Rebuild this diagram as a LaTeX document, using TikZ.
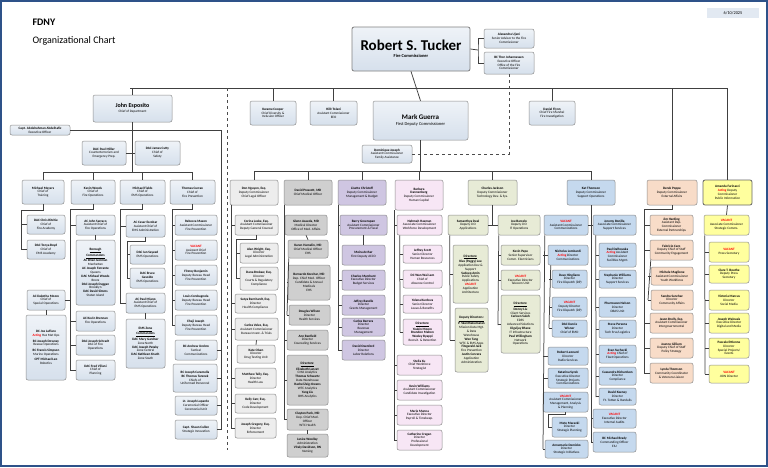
\documentclass[tikz,border=0pt]{standalone}
\usepackage{fontspec}
\setmainfont{Carlito}
\definecolor{espc}{HTML}{D6E0EC}
\definecolor{donc}{HTML}{EDEDED}
\definecolor{prec}{HTML}{CFCFCF}
\definecolor{lisc}{HTML}{CFC6E2}
\definecolor{barc}{HTML}{F7E6F5}
\definecolor{chac}{HTML}{E7EBD6}
\definecolor{katc}{HTML}{C5D9EE}
\definecolor{derc}{HTML}{F8DCC8}
\definecolor{amac}{HTML}{FFFF9E}
\definecolor{frame}{HTML}{2E5289}
\newcommand\bx[7]{\node[#6,minimum width={(#4-#2)*1pt},minimum height={(#5-#3)*1pt}] (#1) at ({(#2+#4)/2},{(#3+#5)/2}) {#7};}
\newcommand\nm[1]{\textbf{#1}}
\newcommand\rd[1]{\textcolor{red}{\textbf{#1}}}
\newcommand\ul[1]{\underline{\textbf{#1}}}
\tikzset{
 bxs/.style={draw=black!45, rounded corners=2pt, align=center, inner sep=0.2pt, line width=0.5pt, font=\fontsize{3.35}{3.85}\selectfont},
 esp/.style={bxs, top color=espc!40, bottom color=espc},
 don/.style={bxs, fill=donc},
 pre/.style={bxs, fill=prec},
 lis/.style={bxs, fill=lisc},
 bar/.style={bxs, fill=barc},
 cha/.style={bxs, fill=chac},
 kat/.style={bxs, fill=katc},
 der/.style={bxs, fill=derc},
 ama/.style={bxs, fill=amac},
 ln/.style={draw=black!75, line width=0.75pt},
 dsh/.style={draw=black!70, line width=0.5pt, dashed}
}
\begin{document}
\begin{tikzpicture}[x=1pt,y=-1pt]
\path[fill=white] (0,0) rectangle (768,467);
\draw[frame, line width=2pt] (1,1) rectangle (767,466);
\node[anchor=west, font=\fontsize{10}{11}\selectfont\bfseries] (t1) at (29,22) {FDNY};
\node[anchor=west, font=\fontsize{10}{11}\selectfont] (t2) at (29,41) {Organizational Chart};
\node[fill=espc!70, minimum width=52pt, minimum height=10pt, font=\fontsize{4.3}{5}\selectfont] (date) at (733,13) {6/10/2025};
% top
\bx{tucker}{352}{27}{470}{71}{esp, draw=black!50, line width=0.8pt}{{\fontsize{15}{17}\selectfont\bfseries Robert S. Tucker}\\[3pt]{\fontsize{4.5}{5}\selectfont\bfseries Fire Commissioner}}
\bx{ujeni}{484}{29}{534}{48}{esp}{\nm{Alexandra Ujeni}\\Senior Advisor to the Fire\\Commissioner}
\bx{thor}{484}{52}{534}{74}{esp}{\nm{BC Thor Johannessen}\\Executive Officer\\Office of the Fire\\Commissioner}
\coordinate (brk) at (478,50);
\draw[ln] (tucker.east) -- (brk);
\draw[ln] (ujeni.west) -| (brk) |- (thor.west);
\coordinate (hL) at (130,88);
\coordinate (hR) at (727,88);
\draw[ln] (hL) -- (hR);
\bx{esposito}{93}{95}{172}{122}{esp}{{\fontsize{6}{7}\selectfont\bfseries John Esposito}\\[1pt]Chief of Department}
\bx{kwame}{250}{101}{296}{125}{esp}{\nm{Kwame Cooper}\\Chief Diversity \&\\Inclusion Officer}
\bx{hilit}{310}{101}{357}{125}{esp}{\nm{Hilit Tolani}\\Assistant Commissioner\\EEO}
\bx{guerra}{373}{101}{468}{140}{esp}{{\fontsize{7}{8}\selectfont\bfseries Mark Guerra}\\[2pt]{\fontsize{4.5}{5}\selectfont First Deputy Commissioner}}
\bx{flynn}{529}{101}{575}{125}{esp}{\nm{Daniel Flynn}\\Chief Fire Marshal\\Fire Investigation}
\draw[ln] (tucker.south) -- (guerra.north);
\foreach \b in {esposito,kwame,hilit,flynn} \draw[ln] (\b.north) -- (\b.north |- hL);
\coordinate (vD1) at (672,88); \coordinate (vA1) at (727,88);
\coordinate (dsA) at (227,88); \coordinate (dsB) at (227,450);
\draw[dsh] (dsA) -- (dsB);
\bx{capt}{10}{125}{70}{135}{esp}{\nm{Capt. Abdelrahman Abdelhafiz}\\Executive Officer}
\bx{miller}{82}{141}{126}{165}{esp}{\nm{DAC Paul Miller}\\Counterterrorism and\\Emergency Prep.}
\bx{cutty}{135}{141}{180}{165}{esp}{\nm{DAC James Cutty}\\Chief of\\Safety}
\bx{dominique}{362}{145}{412}{163}{esp}{\nm{Dominique Joseph}\\Assistant Commissioner\\Family Assistance}
\draw[dsh] (thor.south) |- (dominique.east);
% Esposito column
\coordinate (r2a) at (43,172); \coordinate (r2b) at (193,172);
\draw[ln] (esposito.south) -- (esposito.south |- r2a);
\draw[ln] (r2a) -- (r2b);
\draw[ln] (miller.east) -- (cutty.west);
\bx{meyers}{22}{180}{64}{204}{esp}{\nm{Michael Meyers}\\Chief of\\Training}
\bx{woods}{71}{180}{115}{204}{esp}{\nm{Kevin Woods}\\Chief of\\Fire Operations}
\bx{fields}{120}{180}{165}{204}{esp}{\nm{Michael Fields}\\Chief of\\EMS Operations}
\bx{currao}{170}{180}{215}{204}{esp}{\nm{Thomas Currao}\\Chief of\\Fire Prevention}
\foreach \b in {meyers,woods,fields,currao} \draw[ln] (\b.north) -- (\b.north |- r2a);
\bx{ritchie}{27}{215}{65}{234}{esp}{\nm{DAC Chris Ritchie}\\Chief of\\Fire Academy}
\bx{boyd}{27}{240}{65}{259}{esp}{\nm{DAC Tonya Boyd}\\Chief of\\EMS Academy}
\coordinate (tMe) at (21,250);
\draw[ln] (meyers.south) |- (21,210) -- (tMe);
\foreach \b in {ritchie,boyd} \draw[ln] (\b.west) -- (\b.west -| tMe);
\bx{sarraco}{76}{215}{115}{235}{esp}{\nm{AC John Sarraco}\\Assistant Chief of\\Fire Operations}
\bx{borough}{76}{240}{115}{305}{esp}{\ul{Borough}\\\ul{Commanders}\\\nm{AC Brian Gorman}\\Manhattan\\\nm{AC Joseph Ferrante}\\Queens\\\nm{DAC Michael Woods}\\Bronx\\\nm{DAC Joseph Duggan}\\Brooklyn\\\nm{DAC David Simms}\\Staten Island}
\bx{brennan}{76}{311}{115}{331}{esp}{\nm{AC Kevin Brennan}\\Fire Operations}
\bx{schradt}{76}{335}{115}{355}{esp}{\nm{DAC Joseph Schradt}\\DAC of Fire\\Operations}
\bx{villani}{76}{360}{115}{380}{esp}{\nm{DAC Fred Villani}\\Chief of\\Planning}
\coordinate (tWo) at (70,370);
\draw[ln] (woods.south) |- (70,209) -- (tWo);
\foreach \b in {sarraco,brennan,schradt,villani} \draw[ln] (\b.west) -- (\b.west -| tWo);
\draw[ln] (sarraco.south) -- (borough.north);
\bx{moore}{27}{290}{65}{310}{esp}{\nm{AC Dakotha Moore}\\Chief of\\Special Operations}
\bx{laflare}{26}{315}{66}{380}{esp}{\nm{DC Joe LaFlare}\\\rd{Acting} Haz Mat Ops\\[1.5pt]\nm{BC Joseph Downey}\\Rescue Operations\\[1.5pt]\nm{BC Francis Simpson}\\Marine Operations\\[1.5pt]\nm{CPT Michael Leo}\\Robotics}
\draw[ln] (moore.east) -- (moore.east -| tWo);
\draw[ln] (moore.south) -- (laflare.north);
\bx{escobar}{126}{215}{165}{237}{esp}{\nm{AC Cesar Escobar}\\Assistant Chief of\\EMS Administration}
\bx{sayeed}{130}{245}{165}{264}{esp}{\nm{DAC Ian Sayeed}\\EMS Operations}
\bx{gesoldo}{130}{268}{165}{288}{esp}{\nm{DAC Bruce}\\\nm{Gesoldo}\\EMS Operations}
\bx{miano}{126}{293}{165}{313}{esp}{\nm{AC Paul Miano}\\Assistant Chief of\\EMS Operations}
\bx{zone}{126}{319}{165}{368}{esp}{\ul{EMS Zone}\\\ul{Commanders}\\\nm{DAC Mary Gardner}\\Zone North\\\nm{DAC Joseph Pataky}\\Zone Central\\\nm{DAC Kathleen Knuth}\\Zone South}
\coordinate (tFi) at (120,303);
\draw[ln] (fields.south) |- (120,209) -- (tFi);
\foreach \b in {escobar,miano} \draw[ln] (\b.west) -- (\b.west -| tFi);
\coordinate (tEs) at (127,278);
\draw[ln] (escobar.south) |- (127,241) -- (tEs);
\foreach \b in {sayeed,gesoldo} \draw[ln] (\b.west) -- (\b.west -| tEs);
\draw[ln] (miano.south) -- (zone.north);
\bx{mason}{175}{215}{217}{235}{esp}{\nm{Rebecca Mason}\\Assistant Commissioner\\Fire Prevention}
\bx{vacfp}{175}{240}{217}{260}{esp}{\rd{VACANT}\\Assistant Chief\\Fire Prevention}
\bx{fitzroy}{175}{265}{217}{285}{esp}{\nm{Fitzroy Benjamin}\\Deputy Bureau Head\\Fire Prevention}
\bx{louis}{175}{290}{217}{310}{esp}{\nm{Louis Corsbagnola}\\Deputy Bureau Head\\Fire Prevention}
\bx{ehaji}{175}{315}{217}{335}{esp}{\nm{Ehaji Joseph}\\Deputy Bureau Head\\Fire Prevention}
\coordinate (tCu) at (172,325);
\draw[ln] (currao.south) |- (172,209) -- (tCu);
\foreach \b in {mason,vacfp,fitzroy,louis,ehaji} \draw[ln] (\b.west) -- (\b.west -| tCu);
\bx{urobro}{175}{340}{217}{360}{esp}{\nm{BC Andrew Urobro}\\Tactical\\Communications}
\bx{caramella}{173}{364}{217}{392}{esp}{\nm{BC Joseph Caramella}\\\nm{BC Thomas Tarsnek}\\Chiefs of\\Uniformed Personnel}
\bx{lupardo}{175}{396}{217}{415}{esp}{\nm{Lt. Joseph Lupardo}\\Ceremonial Officer\\Ceremonial Unit}
\bx{cullen}{175}{420}{217}{439}{esp}{\nm{Capt. Shaun Cullen}\\Strategic Innovation}
\coordinate (tCa) at (221,430);
\draw[ln] (capt.east) -| (tCa);
\foreach \b in {urobro,caramella,lupardo,cullen} \draw[ln] (\b.east) -- (\b.east -| tCa);
% Guerra level
\coordinate (g2a) at (254,171); \coordinate (g2b) at (591,171);
\draw[ln] (guerra.south) -- (guerra.south |- g2a);
\draw[ln] (g2a) -- (g2b);
\bx{don}{230}{180}{278}{205}{don}{\nm{Don Nguyen, Esq.}\\Deputy Commissioner\\Chief Legal Officer}
\bx{prescott}{284}{180}{332}{205}{pre}{\nm{David Prescott, MD}\\Chief Medical Officer}
\bx{lisette}{338}{180}{386}{205}{lis}{\nm{Lisette Christoff}\\Deputy Commissioner\\Management \& Budget}
\bx{barbara}{395}{180}{443}{210}{bar}{\nm{Barbara}\\\nm{Dannenberg}\\Deputy Commissioner\\Human Capital}
\bx{charles}{468}{180}{517}{205}{cha}{\nm{Charles Jackson}\\Deputy Commissioner\\Technology Dev. \& Sys.}
\bx{kat}{567}{180}{615}{205}{kat}{\nm{Kat Thomson}\\Deputy Commissioner\\Support Operations}
\foreach \b in {don,prescott,lisette,barbara,charles,kat} \draw[ln] (\b.north) -- (\b.north |- g2a);
% Don
\bx{corina}{235}{215}{278}{235}{don}{\nm{Corina Leske, Esq.}\\Assistant Commissioner\\Deputy General Counsel}
\bx{alan}{240}{243}{278}{263}{don}{\nm{Alan Wright, Esq.}\\Director\\Legal Administration}
\bx{dana}{240}{267}{278}{290}{don}{\nm{Dana Brokaw, Esq.}\\Director\\Courts \& Regulatory\\Compliance}
\bx{satya}{235}{294}{276}{313}{don}{\nm{Satya Bernhardt, Esq.}\\Director\\Health Compliance}
\bx{carlos}{235}{318}{278}{340}{don}{\nm{Carlos Velez, Esq.}\\Assistant Commissioner\\Bureau Invest. \& Trials}
\bx{olsen}{237}{345}{275}{363}{don}{\nm{Kate Olsen}\\Director\\Drug Testing Unit}
\bx{tally}{235}{368}{276}{388}{don}{\nm{Matthew Tally, Esq.}\\Director\\Health Law}
\bx{carr}{235}{394}{276}{413}{don}{\nm{Kelly Carr, Esq.}\\Director\\Code Development}
\bx{gregory}{235}{418}{276}{438}{don}{\nm{Joseph Gregory, Esq.}\\Director\\Enforcement}
\coordinate (tDa) at (231,205); \coordinate (tDb) at (231,428);
\draw[ln] (tDa) -- (tDb);
\foreach \b in {corina,satya,carlos,tally,carr,gregory} \draw[ln] (\b.west) -- (\b.west -| tDb);
\coordinate (tCo) at (236,278);
\draw[ln] (corina.south) |- (236,239) -- (tCo);
\foreach \b in {alan,dana} \draw[ln] (\b.west) -- (\b.west -| tCo);
\draw[ln] (carlos.south) -- (olsen.north);
% Prescott
\bx{asaeda}{285}{215}{327}{235}{pre}{\nm{Glenn Asaeda, MD}\\Medical Director\\Office of Med. Affairs}
\bx{hamelin}{288}{240}{328}{258}{pre}{\nm{Karen Hamelin, MD}\\Chief Medical Officer\\EHS}
\bx{kocchar}{288}{265}{330}{300}{pre}{\nm{Bernardo Kocchar, MD}\\Dep. Chief Med. Officer\\Candidate \& Annual\\Medicals\\EHS}
\bx{wilson}{289}{305}{330}{325}{pre}{\nm{Douglas Wilson}\\Director\\Health Services}
\bx{banfield}{287}{330}{328}{350}{pre}{\nm{Ann Banfield}\\Director\\Counseling Services}
\bx{dirs1}{287}{355}{328}{405}{pre}{\ul{Directors:}\\\nm{Elizabeth Lancet}\\CMA Analytics\\\nm{Thomas Schwartz}\\Data Warehouse\\\nm{Rachel Zeig-Owens}\\WTC Analytics\\\nm{Yang Liu}\\BHS Analytics}
\bx{park}{287}{409}{328}{430}{pre}{\nm{Clayton Park, MD}\\Dep. Chief Med.\\Officer\\WTC Health}
\bx{woolley}{287}{434}{328}{457}{pre}{\nm{Janice Woolley}\\Administration\\\nm{Vitaly Davidson, RN}\\Nursing}
\coordinate (tPa) at (284,205); \coordinate (tPb) at (284,420);
\draw[ln] (tPa) -- (tPb);
\foreach \b in {asaeda,banfield,dirs1,park} \draw[ln] (\b.west) -- (\b.west -| tPb);
\draw[ln] (asaeda.south) -- (hamelin.north);
\coordinate (tHa) at (287,315);
\draw[ln] (hamelin.south west) ++(1,0) -- (tHa);
\foreach \b in {kocchar,wilson} \draw[ln] (\b.west) -- (\b.west -| tHa);
\draw[ln] (park.south) -- (woolley.north);
% Lisette
\bx{barry}{340}{215}{387}{235}{lis}{\nm{Barry Greenspan}\\Assistant Commissioner\\Procurement \& Fiscal}
\bx{moira}{342}{245}{385}{265}{lis}{\nm{Moira Archer}\\First Deputy ACCO}
\bx{marchant}{342}{270}{385}{290}{lis}{\nm{Charles Marchant}\\Executive Director\\Budget Services}
\bx{bandle}{342}{295}{385}{315}{lis}{\nm{Jeffrey Bandle}\\Director\\Grants Management}
\bx{barrera}{342}{318}{385}{336}{lis}{\nm{Carlos Barrera}\\Director\\Revenue\\Management}
\bx{oxen}{342}{340}{385}{360}{lis}{\nm{David Oxenford}\\Director\\Labor Relations}
\coordinate (tLa) at (338,205); \coordinate (tLb) at (338,350);
\draw[ln] (tLa) -- (tLb);
\foreach \b in {barry,marchant,bandle,barrera,oxen} \draw[ln] (\b.west) -- (\b.west -| tLb);
\draw[ln] (barry.south) -- (moira.north);
% Barbara
\bx{hasman}{397}{215}{442}{235}{bar}{\nm{Nehmah Hasman}\\Associate Commissioner\\Workforce Development}
\bx{scott}{403}{245}{442}{263}{bar}{\nm{Jeffrey Scott}\\Senior Director\\Human Resources}
\bx{lam}{403}{270}{442}{288}{bar}{\nm{DC Wan Wai Lam}\\Chief of\\Absence Control}
\bx{kurdova}{403}{295}{442}{313}{bar}{\nm{Yelena Kurdova}\\Senior Director\\Leave \& Benefits}
\bx{dirs2}{403}{319}{442}{345}{bar}{\ul{Directors:}\\\nm{Yeakin Moore}\\\nm{Brandon Mahon}\\\nm{Wesley Byappi}\\Recruit. \& Retention}
\bx{xu}{397}{355}{442}{375}{bar}{\nm{Stella Xu}\\Chief Workforce\\Strategist}
\bx{williams}{397}{380}{442}{400}{bar}{\nm{Kevin Williams}\\Assistant Commissioner\\Candidate Investigation}
\bx{manna}{397}{405}{442}{425}{bar}{\nm{Marie Manna}\\Executive Director\\Payroll \& Timekeep.}
\bx{cregan}{397}{430}{442}{450}{bar}{\nm{Catherine Cregan}\\Director\\Professional\\Development}
\coordinate (tBa) at (394,210); \coordinate (tBb) at (394,440);
\draw[ln] (tBa) -- (tBb);
\foreach \b in {hasman,xu,williams,manna,cregan} \draw[ln] (\b.west) -- (\b.west -| tBb);
\coordinate (tNe) at (400,332);
\draw[ln] (hasman.south west) ++(3,0) -- (tNe);
\foreach \b in {scott,lam,kurdova,dirs2} \draw[ln] (\b.west) -- (\b.west -| tNe);
% Charles
\bx{deal}{448}{215}{488}{235}{cha}{\nm{Samanthya Deal}\\Deputy CIO\\Applications}
\bx{barcelo}{498}{215}{540}{235}{cha}{\nm{Joe Barcelo}\\Deputy CIO\\IT Operations}
\draw[ln] (deal.east) -- (barcelo.west);
\draw[ln] (charles.south) -- (charles.south |- deal.east);
\bx{dirs3}{453}{245}{488}{303}{cha}{\ul{Directors:}\\\nm{Kiva (Peggy) Lee}\\Application Dev \&\\Support\\\nm{Sudeep Amin}\\Public Safety\\Applications\\\rd{VACANT}\\Application\\Architecture}
\bx{ddirs}{455}{308}{488}{372}{cha}{\ul{Deputy Directors:}\\\nm{P. Skanthakumaran}\\Mission Data Mgt.\\\& Data\\Warehouse\\\nm{Wen Tang}\\WTC \& EMS Apps\\\nm{Fitzgerald Jack}\\Fire Prevention\\\nm{Justin Cervera}\\Application\\Administration}
\coordinate (tSa) at (450,340);
\draw[ln] (deal.south west) ++(2,0) -- (tSa);
\foreach \b in {dirs3,ddirs} \draw[ln] (\b.west) -- (\b.west -| tSa);
\bx{pepe}{501}{245}{540}{265}{cha}{\nm{Kevin Pepe}\\Senior Supervisor\\Comm. Electricians}
\bx{vactel}{501}{270}{540}{290}{cha}{\rd{VACANT}\\Executive Director\\Telecom Unit}
\bx{dirs4}{501}{295}{540}{353}{cha}{\ul{Directors:}\\\nm{Donny Liu}\\Client Services\\\nm{Carleen Saleh}\\EDSS\\Advanced Solutions\\\nm{Digvijay Bhave}\\IT Infrastructure\\\nm{Paul Willingham}\\Network\\Operations}
\coordinate (tJo) at (498,325);
\draw[ln] (barcelo.south west) ++(1,0) -- (tJo);
\foreach \b in {pepe,vactel,dirs4} \draw[ln] (\b.west) -- (\b.west -| tJo);
% Kat
\bx{vaccom}{544}{215}{588}{235}{kat}{\rd{VACANT}\\Assistant Commissioner\\Communications}
\bx{bonilla}{593}{215}{636}{235}{kat}{\nm{Jeremy Bonilla}\\Associate Commissioner\\Support Services}
\draw[ln] (vaccom.east) -- (bonilla.west);
\coordinate (tKa) at (591,442);
\draw[ln] (kat.south) -- (tKa);
\bx{lombardi}{548}{245}{588}{265}{kat}{\nm{Nicholas Lombardi}\\\rd{Acting} Director\\Communications}
\bx{hingliano}{552}{270}{587}{288}{kat}{\nm{Dave Hingliano}\\Director\\Fire Dispatch (DP)}
\bx{vacfd}{552}{297}{587}{317}{kat}{\rd{VACANT}\\Deputy Director\\Fire Dispatch (DP)}
\bx{wisner}{552}{320}{587}{337}{kat}{\nm{DAC Darcie}\\\nm{Wisner}\\Chief of EMD}
\bx{leonard}{548}{347}{588}{365}{kat}{\nm{Robert Leonard}\\Director\\Radio Services}
\bx{syrek}{548}{368}{588}{388}{kat}{\nm{Katarina Syrek}\\Executive Director\\Strategic Projects\\Communications}
\bx{vacmap}{543}{392}{588}{412}{kat}{\rd{VACANT}\\Assistant Commissioner\\Management, Analysis\\\& Planning}
\bx{macecki}{552}{417}{587}{437}{kat}{\nm{Mete Macecki}\\Director\\Strategic Planning}
\bx{demicko}{545}{440}{588}{458}{kat}{\nm{Annemarie Demicko}\\Director\\Strategic Initiatives}
\coordinate (tVc) at (543,449);
\draw[ln] (vaccom.south west) ++(1,0) -- (tVc);
\foreach \b in {lombardi,leonard,syrek,demicko} \draw[ln] (\b.west) -- (\b.west -| tVc);
\coordinate (tLo) at (549,328);
\draw[ln] (lombardi.south west) ++(3,0) -- (tLo);
\foreach \b in {hingliano,vacfd,wisner} \draw[ln] (\b.west) -- (\b.west -| tLo);
\coordinate (tVm) at (548,427);
\draw[ln] (vacmap.south) |- (548,414) -- (tVm) -- (macecki.west);
\bx{dalhouska}{599}{243}{636}{267}{kat}{\nm{Paul Dalhouska}\\\rd{Acting} Assistant\\Commissioner\\Facilities Mgmt.}
\bx{swilliams}{599}{270}{636}{288}{kat}{\nm{Stephanie Williams}\\Director\\Support Services}
\bx{nelson}{599}{297}{636}{317}{kat}{\nm{Pharrowan Nelson}\\Director\\DBAS Unit}
\bx{persons}{599}{320}{636}{338}{kat}{\nm{Steve Persons}\\Director\\Tech Srvs/Logistics}
\bx{suchecki}{599}{345}{636}{363}{kat}{\nm{Evan Suchecki}\\\rd{Acting} Chief of\\Fleet Operations}
\bx{richardson}{599}{367}{636}{385}{kat}{\nm{Cassandra Richardson}\\Director\\Compliance}
\bx{keeney}{599}{388}{636}{405}{kat}{\nm{David Keeney}\\Director\\Ft. Totten \& Randalls}
\bx{vacaud}{593}{409}{636}{428}{kat}{\rd{VACANT}\\Executive Director\\Internal Audits}
\bx{brady}{593}{432}{636}{452}{kat}{\nm{BC Michael Brady}\\Commanding Officer\\EIU}
\coordinate (tJe) at (596,397);
\draw[ln] (bonilla.south west) ++(3,0) -- (tJe);
\foreach \b in {dalhouska,swilliams,nelson,persons,suchecki,richardson,keeney} \draw[ln] (\b.west) -- (\b.west -| tJe);
\foreach \b in {vacaud,brady} \draw[ln] (\b.west) -- (\b.west -| tKa);
% Derek
\bx{derek}{647}{180}{697}{205}{der}{\nm{Derek Poppe}\\Deputy Commissioner\\External Affairs}
\bx{amanda}{703}{180}{752}{205}{ama, draw=black!60, line width=0.8pt}{\nm{Amanda Farinacci}\\\rd{Acting} Deputy\\Commissioner\\Public Information}
\draw[ln] (derek.north) -- (derek.north |- vD1);
\draw[ln] (amanda.north) -- (amanda.north |- vA1);
\bx{harding}{650}{215}{693}{235}{der}{\nm{Jim Harding}\\Assistant Dep.\\Commissioner\\External Partnerships}
\bx{caro}{650}{240}{693}{260}{der}{\nm{Fabricio Caro}\\Deputy Chief of Staff\\Community Engagement}
\bx{maglione}{651}{267}{693}{285}{der}{\nm{Michele Maglione}\\Assistant Commissioner\\Youth Workforce}
\bx{sanchez}{651}{290}{693}{310}{der}{\nm{Sandra Sanchez}\\Director\\Community Affairs}
\bx{brelly}{650}{313}{693}{333}{der}{\nm{Jason Brelly, Esq.}\\Assistant Commissioner\\Intergovernmental}
\bx{gillium}{650}{338}{693}{358}{der}{\nm{Jeanne Gillium}\\Deputy Chief of Staff\\Policy Strategy}
\bx{lthomson}{650}{363}{693}{383}{der}{\nm{Lynda Thomson}\\Community Coordinator\\\& Veterans Liaison}
\coordinate (tDe) at (644,373);
\draw[ln] (derek.south) |- (644,209) -- (tDe);
\foreach \b in {harding,caro,brelly,gillium,lthomson} \draw[ln] (\b.west) -- (\b.west -| tDe);
\coordinate (tCr) at (648,300);
\draw[ln] (caro.south west) ++(1,0) -- (tCr);
\foreach \b in {maglione,sanchez} \draw[ln] (\b.west) -- (\b.west -| tCr);
% Amanda
\bx{vacsc}{704}{215}{749}{235}{ama}{\rd{VACANT}\\Associate Commissioner\\Strategic Comms.}
\draw[ln] (amanda.south) -- (vacsc.north);
\bx{press}{709}{242}{749}{262}{ama}{\rd{VACANT}\\Press Secretary}
\bx{bouthe}{709}{265}{749}{283}{ama}{\nm{Clare T. Bouthe}\\Deputy Press\\Secretary}
\bx{marcus}{709}{290}{749}{310}{ama}{\nm{Victoria Marcus}\\Director\\Social Media}
\bx{walnasis}{709}{313}{749}{333}{ama}{\nm{Joseph Walnasis}\\Executive Director\\Digital and Media}
\bx{ettienne}{709}{338}{749}{358}{ama}{\nm{Pascale Ettienne}\\Director\\Special Projects/\\Events}
\bx{join}{709}{365}{749}{383}{ama}{\rd{VACANT}\\JOIN Director}
\coordinate (tAm) at (705,374);
\draw[ln] (vacsc.south west) ++(1,0) -- (tAm);
\foreach \b in {press,bouthe,marcus,walnasis,ettienne,join} \draw[ln] (\b.west) -- (\b.west -| tAm);
\end{tikzpicture}
\end{document}
